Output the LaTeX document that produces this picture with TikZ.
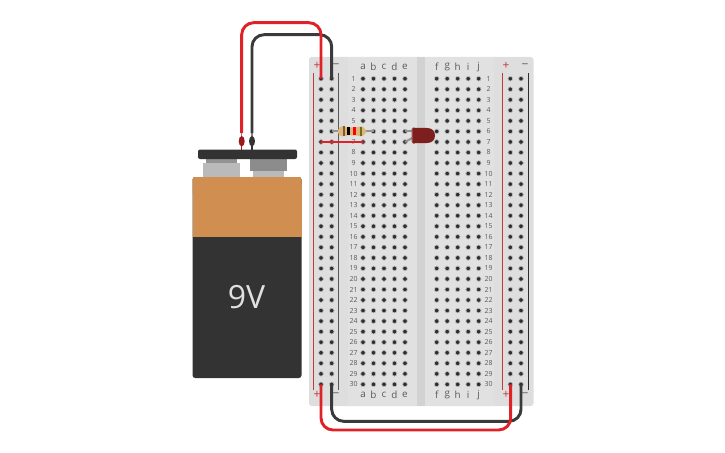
\documentclass[tikz,border=0pt]{standalone}
\usepackage{fontspec}
\setmainfont{Open Sans}
\definecolor{boardc}{HTML}{DEDEDE}
\definecolor{groove}{HTML}{D2D2D2}
\definecolor{zonec}{HTML}{E1E1E1}
\definecolor{holec}{HTML}{2E2E2E}
\definecolor{haloc}{HTML}{BDBDBD}
\definecolor{wred}{HTML}{E02127}
\definecolor{wdark}{HTML}{3A3A3A}
\definecolor{labc}{HTML}{5A5A5A}
\definecolor{orangec}{HTML}{D08E50}
\definecolor{batc}{HTML}{333333}
\definecolor{railred}{HTML}{C23A3A}
\definecolor{ledc}{HTML}{7E1F1F}
\definecolor{resc}{HTML}{DDB77A}
\tikzset{
  x=0.75pt,y=-0.75pt,
  hole/.style={circle,fill=holec,draw=haloc,line width=0.5pt,inner sep=0pt,minimum size=3.5pt},
  wire/.style={line width=2.2pt,rounded corners=9pt,line cap=butt},
  lab/.style={text=labc,font=\fontsize{7.4pt}{8pt}\selectfont,inner sep=0pt},
  sign/.style={font=\fontsize{9pt}{9pt}\selectfont,inner sep=0pt},
  num/.style={text=labc,font=\fontsize{5.2pt}{6pt}\selectfont,inner sep=0pt},
  lead/.style={draw=gray!85,line width=1.5pt},
  rail/.style={line width=0.8pt}
}
\begin{document}
\begin{tikzpicture}
\useasboundingbox (0,0) rectangle (725,453);
% board
\fill[boardc,rounded corners=2pt] (309,57) rectangle (533.5,406);
\fill[zonec] (348,57) rectangle (416.5,406);
\fill[zonec] (425,57) rectangle (494,406);
\fill[groove] (416.5,57) rectangle (425,406);
% rails
\draw[rail,railred] (313.3,73) -- (313.3,390);
\draw[rail,labc] (338.7,73) -- (338.7,390);
\draw[rail,railred] (502.7,73) -- (502.7,390);
\draw[rail,holec] (528.7,73) -- (528.7,390);
% holes and row numbers
\foreach \r in {1,...,30}{
  \pgfmathsetmacro{\yy}{78.7+(\r-1)*10.54}
  \foreach \c in {321,331.7,363,373.5,384,394.5,405,436.7,447.2,457.7,468.2,478.7,510.3,521}
    \node[hole] at (\c,\yy) {};
  \node[num] at (353.5,\yy) {\r};
  \node[num] at (488.7,\yy) {\r};
}
% letters
\foreach \c/\t in {363/a,373.5/b,384/c,394.5/d,405/e,436.7/f,447.2/g,457.7/h,468.2/i,478.7/j}{
  \node[lab] at (\c,67) {\t};
  \node[lab] at (\c,395) {\t};
}
% rail signs
\foreach \yy in {66,395}{
  \node[sign,text=railred] at (317,\yy) {+};
  \node[sign,text=labc] at (336,\yy) {−};
  \node[sign,text=railred] at (506,\yy) {+};
  \node[sign,text=labc] at (525,\yy) {−};
}
% battery
\fill[batc,rounded corners=2pt] (192.5,177) rectangle (301.5,378);
\fill[orangec,rounded corners=2pt] (192.5,177) rectangle (301.5,195);
\fill[orangec] (192.5,185) rectangle (301.5,237);
\node[text=white!88!black,font=\fontsize{24pt}{24pt}\selectfont,inner sep=0pt] (nine) at (246.5,297) {9V};
\fill[gray!85!white] (206,159) rectangle (237,164);
\fill[black!27] (203,163) rectangle (240,177);
\fill[black!45] (250,159) rectangle (287,171);
\fill[black!27] (253,171) rectangle (284,177);
\fill[batc,rounded corners=1.5pt] (198,149.5) rectangle (297,159);
% snap pins
\coordinate (snapR) at (241.7,149.5);
\coordinate (snapK) at (252,149.5);
\coordinate (railRT) at (321,78.7);
\coordinate (railKT) at (331.7,78.7);
\coordinate (railRB) at (321,384.3);
\coordinate (railKB) at (331.7,384.3);
\coordinate (railRB2) at (510.7,384.3);
\coordinate (railKB2) at (521,384.3);
\draw[line width=1pt,gray] (241.7,133) -- (241.7,137);
\draw[line width=1pt,gray] (252,133) -- (252,137);
\draw[line width=1pt,wred!70!black] (241.7,145) -- (snapR);
\draw[line width=1pt,batc] (252,145) -- (snapK);
\fill[wred!70!black] (241.7,141.2) ellipse (3 and 5.2);
\fill[batc] (252,141.2) ellipse (3 and 5.2);
% wires to battery
\draw[wire,wdark] (252,133) -- (252,34.7) -- (331.7,34.7) -- (railKT);
\draw[wire,wred] (241.7,133) -- (241.7,22.7) -- (321,22.7) -- (railRT);
% bottom wires
\draw[wire,wdark] (railKB) -- (331.7,421.3) -- (521,421.3) -- (railKB2);
\draw[wire,wred] (railRB) -- (321,430) -- (510.7,430) -- (railRB2);
% resistor
\coordinate (resL) at (331.7,131.4);
\coordinate (resR) at (373.5,131.4);
\draw[lead] (resL) -- (resR);
\fill[resc,rounded corners=1pt] (337,131.4) -- (341,126) -- (346,127.4) -- (357,127.4) -- (362,126) -- (367,131.4) -- (362,136.8) -- (357,135.4) -- (346,135.4) -- (341,136.8) -- cycle;
\fill[brown!70!black] (342.5,126.4) rectangle (345,136.4);
\fill[black] (347.2,127.4) rectangle (350,135.4);
\fill[red] (353,127.4) rectangle (356,135.4);
\fill[olive!75!black] (360,126.8) rectangle (362,136);
% jumper on row 7
\coordinate (jumpL) at (321,142);
\coordinate (jumpR) at (363,142);
\draw[line width=1.4pt,wred,line cap=round] (jumpL) -- (jumpR);
% LED
\coordinate (ledA) at (405,131.4);
\coordinate (ledK) at (405,142);
\draw[lead] (ledA) -- (414,131.4);
\draw[lead] (ledK) -- (414,137);
\fill[ledc!80!white,rounded corners=1pt] (411.7,127.7) rectangle (416,143.5);
\fill[ledc] (413,128) -- (427,128) .. controls (432,128) and (435,131) .. (435,135.5) .. controls (435,140) and (432,143) .. (427,143) -- (413,143) -- cycle;
\end{tikzpicture}
\end{document}
